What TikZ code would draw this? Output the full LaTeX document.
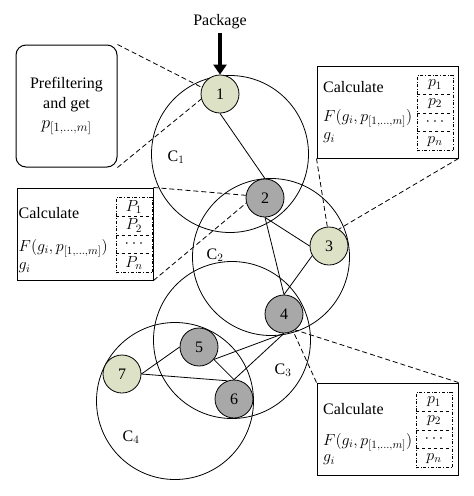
\RequirePackage{fix-cm}
\documentclass[tikz,border=0pt]{standalone}
\usepackage{fontspec}
\setmainfont{Liberation Serif}
\usetikzlibrary{arrows.meta}
\definecolor{lightnode}{HTML}{DDE1C5}
\definecolor{darknode}{HTML}{A8A8A8}
\def\Foff{6}
\newcommand{\InfoBox}[9]{%
  % #1 name, #2 left, #3 top, #4 width, #5 inner left, #6 letter, #7 calc y, #8 F y, #9 g y
  \node[infobox,minimum width=#4pt] (#1) at (#2+#4/2,#3+46) {};
  \node[plist] (#1L) at (#5+18,#3+47) {};
  \foreach \k in {1,2,3}{\draw[sep] (#5,#3+9.5+\k*18.75) -- (#5+36,#3+9.5+\k*18.75);}
  \node[plabel] (#1p1) at (#5+18,#3+9.5+0.5*18.75) {$#6_1$};
  \node[plabel] (#1p2) at (#5+18,#3+9.5+1.5*18.75) {$#6_2$};
  \node[plabel] (#1p3) at (#5+18,#3+9.5+2.5*18.75) {$\cdots$};
  \node[plabel] (#1p4) at (#5+18,#3+9.5+3.5*18.75) {$#6_n$};
  \node[txt] (#1c) at (#2+\Foff,#7) {Calculate};
  \node[txt] (#1f) at (#2+\Foff,#8) {$F(g_i,p_{[1,\ldots,m]})$};
  \node[txt] (#1g) at (#2+\Foff,#9) {$g_i$};
}
\begin{document}
\begin{tikzpicture}[x=1pt,y=-1pt,
  every node/.style={font=\fontsize{16}{19}\selectfont},
  vertex/.style={circle,draw,line width=0.8pt,minimum size=38pt,inner sep=0pt},
  lightv/.style={vertex,fill=lightnode},
  darkv/.style={vertex,fill=darknode},
  cluster/.style={circle,draw,line width=0.8pt,inner sep=0pt,minimum size=157pt},
  edge/.style={line width=0.8pt},
  zoomline/.style={line width=0.8pt,dash pattern=on 5pt off 3pt},
  infobox/.style={draw,line width=1pt,minimum height=92pt,inner sep=0pt},
  plist/.style={draw,dash dot,line width=0.6pt,minimum width=36pt,minimum height=75pt,inner sep=0pt},
  plabel/.style={inner sep=0pt},
  sep/.style={dashed,line width=0.6pt},
  txt/.style={inner sep=0pt,anchor=west}
]
\useasboundingbox (0,0) rectangle (474,496);
% clusters
\node[cluster] (c1) at (230,154) {};
\node[cluster] (c2) at (271,257) {};
\node[cluster] (c3) at (232,340) {};
\node[cluster] (c4) at (175,401) {};
\node (lc1) at (176,157) {C$_1$};
\node (lc2) at (215,255) {C$_2$};
\node (lc3) at (283,370) {C$_3$};
\node (lc4) at (131,437) {C$_4$};
% vertices
\node[lightv] (n1) at (220,94) {1};
\node[darkv] (n2) at (265,198) {2};
\node[lightv] (n3) at (329,246) {3};
\node[darkv] (n4) at (284,314) {4};
\node[darkv] (n5) at (199,347) {5};
\node[darkv] (n6) at (234,399) {6};
\node[lightv] (n7) at (122,374) {7};
% edges
\draw[edge] (n1.south) -- (n2.north);
\draw[edge] (n2.south) -- (n3.west);
\draw[edge] (n2.south) -- (n4.north);
\draw[edge] (n3.-150) -- (n4.north);
\draw[edge] (n4.south) -- (n5.-40);
\draw[edge] (n4.south) -- (n6.north);
\draw[edge] (n5.-40) -- (n6.north);
\draw[edge] (n5.west) -- (n7.east);
\draw[edge] (n7.east) -- (n6.110);
% package arrow
\node (pkg) at (220,22) {Package};
\draw[line width=4pt,-{Triangle[width=13pt,length=10pt]}] (pkg.south) -- (n1.north);
% prefilter box
\node[draw,rounded corners=10pt,line width=1pt,minimum width=101pt,minimum height=122pt,align=center,inner sep=0pt] (pf) at (66.5,106) {Prefiltering\\[1pt]and get\\[1pt]\fontsize{18}{21}\selectfont$p_{[1,\ldots,m]}$};
\draw[zoomline] (pf.north east) -- (n1.160);
\draw[zoomline] (pf.south east) -- (n1.195);
% info boxes
\InfoBox{tr}{317}{66}{141}{417}{p}{87}{118}{138}
\def\Foff{1.5}
\InfoBox{lf}{17}{188}{136}{116}{P}{213}{248}{268}
\def\Foff{6}
\InfoBox{br}{317}{383}{141}{416}{p}{409}{442}{460}
\draw[zoomline] (tr.south west) -- (n3.95);
\draw[zoomline] (tr.south east) -- (n3.60);
\draw[zoomline] (lf.north east) -- (n2.172);
\draw[zoomline] (lf.south east) -- (n2.195);
\draw[zoomline] (br.north west) -- (n4.-62);
\draw[zoomline] (br.north east) -- (n4.-55);
\end{tikzpicture}
\end{document}
